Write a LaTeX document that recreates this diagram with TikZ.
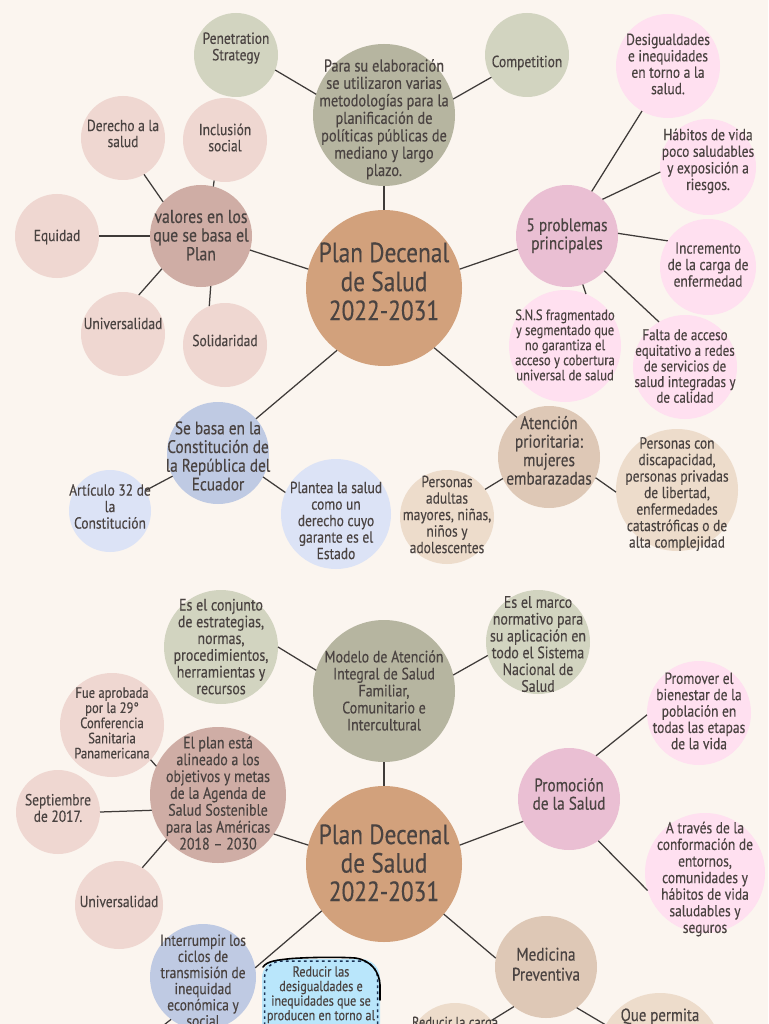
\documentclass[tikz,border=0pt]{standalone}
\usepackage{fontspec}
\setmainfont[FakeStretch=0.84,FakeBold=0.35]{PT Sans}
\definecolor{bgc}{HTML}{FBF5EF}
\definecolor{ink}{HTML}{4A4341}
\definecolor{lnc}{HTML}{3F3B39}
\definecolor{mainc}{HTML}{D2A17C}
\definecolor{olive}{HTML}{B6B5A0}
\definecolor{olivel}{HTML}{D2D4C0}
\definecolor{rose}{HTML}{CFADA5}
\definecolor{rosel}{HTML}{EFD7D1}
\definecolor{pink}{HTML}{EABFD3}
\definecolor{pinkl}{HTML}{FFE0F0}
\definecolor{tan}{HTML}{DEC8B6}
\definecolor{tanl}{HTML}{EDDCCB}
\definecolor{blu}{HTML}{BFCAE3}
\definecolor{blul}{HTML}{DCE3F6}
\definecolor{sky}{HTML}{B9E6FB}
\definecolor{navy}{HTML}{1B3355}
\tikzset{
  bub/.style={circle,inner sep=0pt,outer sep=0pt,text=ink},
  conn/.style={draw=lnc,line width=1.25pt},
}
\newcommand{\Tx}[4]{\fontsize{\the\dimexpr #1pt*107/100\relax}{#2}\selectfont\makebox[0pt]{\raisebox{\dimexpr #3pt-.38em\relax}[0pt][0pt]{\begin{tabular}[c]{@{}c@{}}#4\end{tabular}}}}
% name x y r colour size leading dy text
\newcommand{\Bub}[9]{\node[bub,fill=#5,minimum size=#4*2pt] (#1) at (#2,#3) {\Tx{#6}{#7}{#8}{#9}};}
\begin{document}
\begin{tikzpicture}[x=1pt,y=-1pt]
\useasboundingbox (0,0) rectangle (768,1024);
\clip (0,0) rectangle (768,1024);
\fill[bgc] (0,0) rectangle (768,1024);
% top map
\Bub{m1}{384}{288}{78}{mainc}{26}{29}{7}{Plan Decenal\\de Salud\\2022-2031}
\Bub{para}{384}{115}{71}{olive}{16}{17.3}{-3}{Para su elaboración\\se utilizaron varias\\metodologías para la\\planificación de\\políticas públicas de\\mediano y largo\\plazo.}
\Bub{pen}{236}{55}{42}{olivel}{15}{16.5}{8}{Penetration\\Strategy}
\Bub{comp}{527}{55}{42}{olivel}{15}{16.5}{-7}{Competition}
\Bub{val}{201}{236}{51}{rose}{17.5}{18.3}{1}{valores en los\\que se basa el\\Plan}
\Bub{der}{123}{138}{42}{rosel}{15}{16}{4}{Derecho a la\\salud}
\Bub{inc}{225}{140}{42}{rosel}{15}{16}{2}{Inclusión\\social}
\Bub{equ}{57}{236}{42}{rosel}{15}{16}{0}{Equidad}
\Bub{uni}{123}{334}{42}{rosel}{15}{16}{10}{Universalidad}
\Bub{sol}{225}{345}{42}{rosel}{15}{16}{4}{Solidaridad}
\Bub{pro}{567}{236}{51}{pink}{17}{18}{2}{5 problemas\\principales}
\Bub{des}{668}{66}{52}{pinkl}{15}{16.4}{1.5}{Desigualdades\\e inequidades\\en torno a la\\salud.}
\Bub{hab}{708}{167}{48}{pinkl}{15}{16.6}{7}{Hábitos de vida\\poco saludables\\y exposición a\\riesgos.}
\Bub{cre}{708}{267}{48}{pinkl}{15}{16.5}{2}{Incremento\\de la carga de\\enfermedad}
\Bub{sns}{565}{346}{56}{pinkl}{14}{15}{1}{S.N.S fragmentado\\y segmentado que\\no garantiza el\\acceso y cobertura\\universal de salud}
\Bub{fal}{685}{367}{52}{pinkl}{14.5}{15.5}{1}{Falta de acceso\\equitativo a redes\\de servicios de\\salud integradas y\\de calidad}
\Bub{ate}{549}{457}{51}{tan}{17}{18.5}{6.5}{Atención\\prioritaria:\\mujeres\\embarazadas}
\Bub{adu}{447}{517}{47}{tanl}{15}{16.5}{2}{Personas\\adultas\\mayores, niñas,\\niños y\\adolescentes}
\Bub{dis}{677}{490}{61}{tanl}{15}{16.5}{-3}{Personas con\\discapacidad,\\personas privadas\\de libertad,\\enfermedades\\catastróficas o de\\alta complejidad}
\Bub{bas}{218}{453}{51}{blu}{17}{18.7}{-3}{Se basa en la\\Constitución de\\la República del\\Ecuador}
\Bub{art}{110}{511}{41}{blul}{15}{16.5}{4}{Artículo 32 de\\la\\Constitución}
\Bub{pla}{336}{514}{55}{blul}{15}{16.5}{-7}{Plantea la salud\\como un\\derecho cuyo\\garante es el\\Estado}
% bottom map
\Bub{m2}{384}{864}{78}{mainc}{26}{28.5}{1.5}{Plan Decenal\\de Salud\\2022-2031}
\Bub{mod}{384}{691}{71}{olive}{15.5}{17}{0}{Modelo de Atención\\Integral de Salud\\Familiar,\\Comunitario e\\Intercultural}
\Bub{con}{221}{647}{57}{olivel}{15.5}{16.7}{0}{Es el conjunto\\de estrategias,\\normas,\\procedimientos,\\herramientas y\\recursos}
\Bub{mar}{538}{642}{52}{olivel}{15.5}{16.6}{-2.5}{Es el marco\\normativo para\\su aplicación en\\todo el Sistema\\Nacional de\\Salud}
\Bub{ali}{218}{795}{68}{rose}{15.5}{16.8}{1.5}{El plan está\\alineado a los\\objetivos y metas\\de la Agenda de\\Salud Sostenible\\para las Américas\\2018 – 2030}
\Bub{fue}{112}{725}{52}{rosel}{14}{15}{2}{Fue aprobada\\por la 29°\\Conferencia\\Sanitaria\\Panamericana}
\Bub{sep}{58}{812}{42}{rosel}{15}{16.5}{3.5}{Septiembre\\de 2017.}
\Bub{un2}{119}{905}{44}{rosel}{15}{16}{3}{Universalidad}
\Bub{prm}{569}{799}{51}{pink}{17}{18}{5}{Promoción\\de la Salud}
\Bub{bie}{699}{713}{52}{pinkl}{15}{16.3}{1.5}{Promover el\\bienestar de la\\población en\\todas las etapas\\de la vida}
\Bub{tra}{705}{873}{60}{pinkl}{15}{16.6}{-5}{A través de la\\conformación de\\entornos,\\comunidades y\\hábitos de vida\\saludables y\\seguros}
\Bub{med}{546}{967}{51}{tan}{17}{20}{3}{Medicina\\Preventiva}
\Bub{int}{203}{977}{53}{blu}{15}{15.6}{-4}{Interrumpir los\\ciclos de\\transmisión de\\inequidad\\económica y\\social}
\Bub{red}{455}{1050}{47}{tanl}{14}{16}{28}{Reducir la carga}
\Bub{que}{660}{1055}{62}{tanl}{16.5}{18}{40}{Que permita}
% callout
\fill[sky,rounded corners=19pt] (262,959) rectangle (380,1070);
\node[rectangle,rounded corners=17pt,fill=sky,draw=navy,line width=1.5pt,dash pattern=on 2.6pt off 3.4pt,minimum width=113pt,minimum height=100pt,inner sep=0pt,text=ink] (call) at (321,1011)
  {\Tx{13.5}{14.5}{17.5}{Reducir las\\desigualdades e\\inequidades que se\\producen en torno al}};
\draw[black,line width=1.6pt,line cap=round] (263,967) .. controls (267,961) and (277,960) .. (292,958.5) .. controls (315,957) and (340,957) .. (355,958) .. controls (371,960) and (379.5,972) .. (380,985) -- (380,1000);
% connectors
\coordinate (off) at (150,1036);
\foreach \a/\b in {
 para.-90/m1.90, pen.-21/para.163, comp.212/para.13, val.-16/m1.166,
 der.-60/val.138, inc.-105/val.76.6, equ.0/val.180, uni.68/val.220, sol.112/val.-79,
 pro.195/m1.14.5, des.240/pro.61, hab.186/pro.46.6, cre.147/pro.3.7, sns.68.6/pro.-72, fal.120/pro.-43,
 bas.42/m1.233.4, ate.129.5/m1.-50.6, adu.36/ate.205.6, dis.182/ate.-24,
 art.30/bas.207, pla.157/bas.-28,
 mod.-90/m2.90, con.0/mod.163.6, mar.195/mod.13, ali.-35/m2.166,
 fue.-42/ali.155.7, sep.0/ali.193.6, un2.58/ali.221,
 prm.206/m2.14, bie.182/prm.58.5, tra.197.5/prm.-55,
 int.10.7/m2.217, med.170/m2.-40, red.39/med.231, que.151/med.-53}
 {\draw[conn] (\a) -- (\b);}
\draw[conn] (int.233) -- (off);
\end{tikzpicture}
\end{document}
